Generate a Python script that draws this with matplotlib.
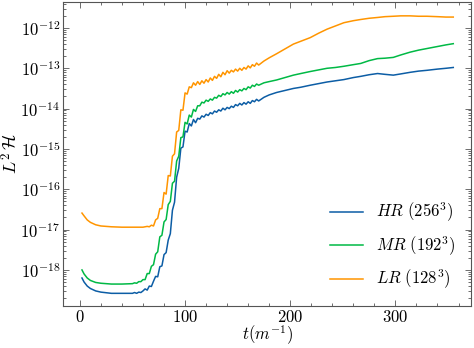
import numpy as np
import matplotlib
matplotlib.use("Agg")
import matplotlib.pyplot as plt
from matplotlib.ticker import AutoMinorLocator, NullFormatter, LogLocator

plt.rcParams['font.family'] = 'cmr10'
plt.rcParams['mathtext.fontset'] = 'cm'
plt.rcParams['axes.formatter.use_mathtext'] = True
plt.rcParams['font.size'] = 12

# time grid (m^-1): early, oscillating transition, late
t_early = [2, 4, 7, 10, 15, 20, 30, 40, 50]
t_mid = list(range(52, 172, 2))
t_late = [175, 180, 187, 195, 203, 210, 219, 227, 235, 243, 251, 260, 267,
          275, 283, 290, 298, 305, 314, 322, 330, 340, 348, 355]
t = np.array(t_early + t_mid + t_late)

# log10(L^2 H)
hr_log = [
    -18.20, -18.30, -18.40, -18.46, -18.52, -18.55, -18.58, -18.58, -18.58,
    -18.56, -18.58, -18.55, -18.56, -18.52, -18.47, -18.50, -18.40, -18.41, -18.28,
    -18.16, -18.17, -17.92, -17.90, -17.62, -17.57, -17.26, -17.10, -16.52, -16.32,
    -15.70, -15.48, -14.98, -14.95, -14.56, -14.58, -14.37, -14.43, -14.27, -14.35,
    -14.24, -14.26, -14.18, -14.21, -14.14, -14.17, -14.10, -14.13, -14.06, -14.09,
    -14.03, -14.06, -13.99, -14.03, -13.97, -14.00, -13.94, -13.97, -13.90, -13.93,
    -13.87, -13.91, -13.85, -13.89, -13.83, -13.87, -13.80, -13.83, -13.77, -13.81,
    -13.72, -13.66, -13.60, -13.55, -13.50, -13.47, -13.42, -13.38, -13.34, -13.31,
    -13.28, -13.23, -13.20, -13.16, -13.13, -13.15, -13.17, -13.14, -13.10, -13.07,
    -13.05, -13.02, -13.00, -12.98,
]
mr_log = [
    -18.00, -18.10, -18.20, -18.26, -18.31, -18.33, -18.35, -18.35, -18.34,
    -18.32, -18.33, -18.29, -18.29, -18.24, -18.24, -18.09, -18.09, -17.91, -17.87,
    -17.61, -17.55, -17.18, -17.14, -16.81, -16.75, -16.38, -16.30, -15.85, -15.80,
    -15.30, -15.18, -14.72, -14.70, -14.34, -14.38, -14.16, -14.21, -14.02, -14.07,
    -13.93, -13.93, -13.84, -13.86, -13.79, -13.82, -13.76, -13.79, -13.72, -13.74,
    -13.67, -13.70, -13.63, -13.66, -13.60, -13.64, -13.58, -13.62, -13.55, -13.59,
    -13.53, -13.56, -13.50, -13.53, -13.46, -13.49, -13.42, -13.45, -13.39, -13.42,
    -13.36, -13.33, -13.29, -13.23, -13.17, -13.13, -13.08, -13.04, -13.00, -12.98,
    -12.95, -12.91, -12.88, -12.81, -12.76, -12.75, -12.73, -12.67, -12.60, -12.55,
    -12.51, -12.46, -12.42, -12.39,
]
lr_log = [
    -16.59, -16.66, -16.76, -16.82, -16.88, -16.91, -16.93, -16.94, -16.94,
    -16.94, -16.94, -16.94, -16.94, -16.94, -16.93, -16.92, -16.93, -16.89, -16.91,
    -16.76, -16.72, -16.48, -16.48, -16.08, -16.12, -15.66, -15.67, -15.18, -15.12,
    -14.58, -14.54, -14.03, -14.04, -13.61, -13.64, -13.46, -13.48, -13.36, -13.42,
    -13.33, -13.40, -13.31, -13.37, -13.28, -13.34, -13.24, -13.30, -13.20, -13.25,
    -13.15, -13.21, -13.10, -13.16, -13.06, -13.12, -13.05, -13.09, -13.02, -13.07,
    -13.00, -13.05, -12.98, -13.02, -12.94, -12.99, -12.91, -12.95, -12.87, -12.92,
    -12.82, -12.74, -12.64, -12.52, -12.40, -12.33, -12.24, -12.13, -12.03, -11.95,
    -11.87, -11.82, -11.79, -11.76, -11.74, -11.72, -11.71, -11.70, -11.70, -11.71,
    -11.71, -11.72, -11.73, -11.73,
]
ytick_exp = [-18, -17, -16, -15, -14, -13, -12]

labels = [r'$HR\ (256^3)$', r'$MR\ (192^3)$', r'$LR\ (128^3)$']
colors = ['#0C5DA5', '#00B945', '#FF9500']

fig = plt.figure(figsize=(4.74, 3.48), dpi=100)
ax = fig.add_axes([0.133, 0.12, 0.861, 0.875])

for vals, lab, c in zip([hr_log, mr_log, lr_log], labels, colors):
    ax.plot(t, 10.0 ** np.array(vals), color=c, lw=1.1, label=lab)

ax.set_yscale('log')
ax.set_xlim(-16, 372)
ax.set_ylim(10 ** -18.9, 10 ** -11.35)
ax.set_yticks([10.0 ** e for e in ytick_exp])
ax.yaxis.set_minor_locator(LogLocator(base=10, subs=np.arange(2, 10), numticks=20))
ax.yaxis.set_minor_formatter(NullFormatter())
ax.set_xticks([0, 100, 200, 300])
ax.xaxis.set_minor_locator(AutoMinorLocator(5))
ax.tick_params(which='both', direction='in', top=True, right=True, width=0.6,
               color='#555555', labelsize=12, pad=2)
ax.tick_params(which='major', length=4)
ax.tick_params(which='minor', length=2)
for s in ax.spines.values():
    s.set_linewidth(0.8)
    s.set_color('#555555')

ax.set_xlabel(r'$t(m^{-1})$', fontsize=12, labelpad=-1)
ax.set_ylabel(r'$L^2\,\mathcal{H}$', fontsize=13, labelpad=0)
ax.legend(loc='lower right', frameon=False, fontsize=12, labelspacing=0.6)

fig.savefig('out.png', dpi=100)
